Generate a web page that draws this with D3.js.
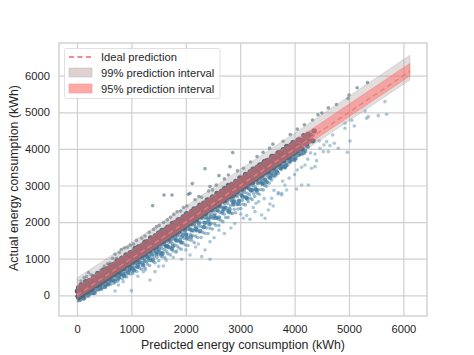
<!DOCTYPE html>
<html>
<head>
<meta charset="utf-8">
<script src="https://cdn.jsdelivr.net/npm/d3@7"></script>
<style>
  html, body { margin: 0; padding: 0; background: #fff; }
  text { font-family: "Liberation Sans", Arial, sans-serif; fill: #262626; }
</style>
</head>
<body>
<div id="chart"></div>
<script>
var xTicks = [0, 1000, 2000, 3000, 4000, 5000, 6000]
var yTicks = [0, 1000, 2000, 3000, 4000, 5000, 6000]
var legendLabels = ['Ideal prediction', '99% prediction interval', '95% prediction interval']

var bandX    = [0, 1000, 2000, 3000, 4000, 5000, 6120]
var upper99  = [470, 1440, 2430, 3440, 4430, 5440, 6557]
var lower99  = [-210, 780, 1770, 2770, 3770, 4770, 5880]
var upper95  = [235, 1225, 2225, 3225, 4225, 5225, 6339]
var lower95  = [-80, 880, 1875, 2875, 3875, 4875, 5990]
var idealX   = [0, 6120]

// dense cloud along the diagonal, estimated: [predicted, actual minus predicted]
var cloudPoints = [
[4,62],[9,-31],[15,148],[21,-92],[24,17],[31,201],[35,-140],[42,88],[47,-8],[53,173],[58,41],[64,-66],[70,119],[74,-115],[81,-22],[86,210],
[92,5],[99,-150],[103,77],[110,162],[114,-49],[121,29],[127,-170],[132,134],[138,-78],[143,56],[150,191],[155,-12],[161,-121],[166,98],[173,-38],[178,219],
[184,-160],[190,70],[195,-3],[202,-95],[207,142],[213,34],[218,-190],[224,112],[231,-58],[236,186],[242,8],[247,-130],[253,84],[260,-25],[264,155],[271,-205],
[276,48],[282,205],[288,-72],[293,-15],[299,125],[304,-176],[311,66],[316,-110],[322,178],[327,-40],[334,22],[339,-225],[345,96],[351,-84],[356,215],[362,-5],
[368,-150],[373,138],[380,38],[385,-250],[391,-62],[396,80],[403,169],[408,-120],[414,-18],[419,198],[426,52],[431,-190],[437,-95],[442,108],[449,-33],[454,222],
[460,-270],[465,12],[472,-140],[477,150],[483,-70],[488,74],[495,-215],[500,-10],[506,190],[511,-105],[518,44],[523,-300],[529,128],[534,-56],[541,-165],[546,210],
[552,25],[558,-240],[563,-88],[569,104],[575,-130],[580,170],[586,-28],[592,-285],[597,60],[603,-190],[608,142],[615,-74],[620,-320],[626,205],[631,-15],[638,-150],
[643,90],[649,-255],[654,-45],[661,180],[666,-110],[672,35],[677,-345],[684,-205],[689,122],[695,-60],[700,216],[707,-170],[712,10],[718,-290],[723,-125],[730,158],
[735,-35],[741,-230],[746,72],[753,-365],[758,-90],[764,195],[769,-145],[776,-20],[781,-310],[787,110],[793,-195],[798,50],[804,-65],[809,222],[816,-260],[821,-130],
[827,15],[832,-380],[838,165],[844,-80],[849,-215],[856,85],[861,-335],[867,-165],[872,-10],[879,200],[884,-290],[890,-105],[896,130],[901,-240],[907,-45],[912,-410],
[919,40],[924,175],[930,-185],[935,-130],[942,-320],[947,95],[953,-70],[958,215],[965,-265],[970,-25],[976,-395],[981,148],[988,-155],[993,-95],[999,60],[1004,-345],
[1010,190],[1016,-210],[1021,-50],[1027,-430],[1033,118],[1038,-125],[1044,-280],[1050,5],[1055,208],[1061,-370],[1067,-85],[1072,-175],[1078,75],[1084,-305],[1089,160],[1095,-30],
[1101,-450],[1106,-235],[1112,100],[1118,-115],[1123,220],[1129,-345],[1135,-60],[1140,-195],[1146,32],[1152,-405],[1157,180],[1163,-140],[1169,-270],[1174,-15],[1180,125],[1186,-475],
[1191,-90],[1197,212],[1203,-325],[1208,-165],[1214,55],[1220,-385],[1225,-40],[1231,145],[1237,-245],[1242,-110],[1248,-500],[1254,90],[1259,-210],[1265,200],[1271,-70],[1276,-360],
[1282,20],[1288,-150],[1293,-440],[1299,170],[1305,-285],[1310,-95],[1316,115],[1322,-225],[1327,-20],[1333,-520],[1339,218],[1344,-130],[1350,-335],[1356,62],[1361,-180],[1367,-415],
[1373,150],[1378,-55],[1384,-260],[1390,195],[1395,-110],[1401,-480],[1407,25],[1412,-205],[1418,-355],[1424,105],[1429,-75],[1435,-545],[1441,210],[1446,-160],[1452,-300],[1458,45],
[1463,-120],[1469,-430],[1475,175],[1480,-30],[1486,-240],[1492,-385],[1497,85],[1503,-560],[1509,-145],[1514,225],[1520,-85],[1526,-330],[1531,10],[1537,-195],[1543,-465],[1548,135],
[1554,-60],[1560,-275],[1565,-510],[1571,190],[1577,-125],[1582,-405],[1588,65],[1594,-220],[1599,-15],[1605,-350],[1611,155],[1616,-590],[1622,-100],[1628,-265],[1633,215],[1639,-40],
[1645,-445],[1650,95],[1656,-175],[1662,-310],[1667,-530],[1673,180],[1679,-70],[1684,-235],[1690,30],[1696,-395],[1701,-135],[1707,205],[1713,-610],[1718,-20],[1724,-285],[1730,120],
[1735,-480],[1741,-90],[1747,-190],[1752,170],[1758,-350],[1764,50],[1769,-560],[1775,-145],[1781,222],[1786,-255],[1792,-55],[1798,-425],[1803,105],[1809,-110],[1815,-320],[1820,-640],
[1826,195],[1832,0],[1837,-215],[1843,-500],[1849,140],[1854,-80],[1860,-375],[1866,75],[1871,-165],[1877,-585],[1883,210],[1888,-275],[1894,-35],[1900,-450],[1905,160],[1911,-125],
[1917,-660],[1922,40],[1928,-230],[1934,-340],[1939,185],[1945,-65],[1951,-520],[1956,90],[1962,-190],[1968,-410],[1973,225],[1979,-25],[1985,-295],[1990,-615],[1996,130],[2002,-105],
[2007,-470],[2013,60],[2019,-215],[2024,-355],[2030,200],[2036,-50],[2041,-680],[2047,-150],[2053,110],[2058,-540],[2064,-265],[2070,15],[2075,175],[2081,-95],[2087,-430],[2092,-325],
[2098,215],[2104,-600],[2109,-30],[2115,-180],[2121,85],[2126,-495],[2132,-120],[2138,145],[2143,-385],[2149,-240],[2155,-715],[2160,35],[2166,205],[2172,-70],[2177,-560],[2183,-305],
[2189,120],[2194,-160],[2200,-445],[2206,-10],[2211,190],[2217,-640],[2223,-210],[2228,70],[2234,-90],[2240,-360],[2245,222],[2251,-520],[2257,-135],[2262,-275],[2268,45],[2274,165],
[2279,-700],[2285,-55],[2291,-410],[2296,100],[2302,-190],[2308,-585],[2313,210],[2319,-20],[2325,-330],[2330,-115],[2336,135],[2342,-470],[2347,-245],[2353,-660],[2359,60],[2364,180],
[2370,-80],[2376,-385],[2381,-540],[2387,-150],[2393,215],[2398,25],[2404,-295],[2410,-720],[2415,-105],[2421,150],[2427,-435],[2432,-205],[2438,80],[2444,-615],[2449,-40],[2455,195],
[2461,-350],[2466,-500],[2472,-130],[2478,110],[2483,-260],[2489,-680],[2495,-15],[2500,222],[2506,-405],[2512,-170],[2517,55],[2523,-560],[2529,-90],[2534,170],[2540,-320],[2546,-225],
[2551,-640],[2557,30],[2563,205],[2568,-120],[2574,-455],[2580,-60],[2585,-280],[2591,125],[2597,-520],[2602,-185],[2608,-700],[2614,75],[2619,-35],[2625,190],[2631,-370],[2636,-140],
[2642,-590],[2648,215],[2653,-240],[2659,10],[2665,-425],[2670,-100],[2676,140],[2682,-670],[2687,-300],[2693,-70],[2699,180],[2704,-490],[2710,45],[2716,-210],[2721,-160],[2727,220],
[2733,-610],[2738,-25],[2744,-345],[2750,95],[2755,-120],[2761,-440],[2767,160],[2772,-265],[2778,-650],[2784,20],[2789,-85],[2795,200],[2801,-530],[2806,-190],[2812,115],[2818,-375],
[2823,-45],[2829,-585],[2835,225],[2840,-150],[2846,-290],[2852,65],[2857,-620],[2863,-110],[2869,170],[2874,-410],[2880,-230],[2886,5],[2891,-540],[2897,135],[2903,-75],[2908,-330],
[2914,-660],[2920,210],[2925,-170],[2931,40],[2937,-465],[2942,-20],[2948,-255],[2954,155],[2959,-600],[2965,-95],[2971,100],[2976,-380],[2982,-205],[2988,218],[2993,-510],[2999,-55],
[3005,70],[3010,-640],[3016,-140],[3022,185],[3027,-310],[3033,-35],[3039,-445],[3044,125],[3050,-220],[3056,-570],[3061,15],[3067,200],[3073,-105],[3078,-395],[3084,-270],[3090,90],
[3095,-625],[3101,-165],[3107,222],[3112,-60],[3118,-480],[3124,145],[3129,-340],[3135,-15],[3141,-200],[3146,-590],[3152,55],[3158,175],[3163,-120],[3169,-420],[3175,-280],[3180,205],
[3186,-80],[3192,-540],[3197,30],[3203,-185],[3209,130],[3214,-360],[3220,-610],[3226,-45],[3231,215],[3237,-245],[3243,-130],[3248,-470],[3254,80],[3260,-20],[3265,-565],[3271,160],
[3277,-310],[3282,-95],[3288,195],[3294,-400],[3299,-175],[3305,50],[3311,-520],[3316,222],[3322,-65],[3328,-235],[3333,-450],[3339,110],[3345,-10],[3350,-590],[3356,-140],[3362,180],
[3367,-295],[3373,-85],[3379,70],[3384,-495],[3390,210],[3396,-205],[3401,-30],[3407,-380],[3413,140],[3418,-115],[3424,-545],[3430,-260],[3435,20],[3441,190],[3447,-440],[3452,-70],
[3458,-165],[3464,225],[3469,-330],[3475,60],[3481,-505],[3486,-25],[3492,-215],[3498,150],[3503,-400],[3509,-100],[3515,95],[3520,-300],[3526,205],[3532,-470],[3537,-55],[3543,-150],
[3549,30],[3554,-360],[3560,175],[3566,-250],[3571,-85],[3577,-430],[3583,120],[3588,-10],[3594,-190],[3600,-330],[3605,215],[3611,-130],[3617,65],[3622,-390],[3628,-45],[3634,-260],
[3639,160],[3645,-110],[3651,-340],[3656,10],[3662,200],[3668,-205],[3673,-75],[3679,-300],[3685,105],[3690,-150],[3696,-30],[3702,-370],[3707,222],[3713,55],[3719,-225],[3724,-95],
[3730,140],[3736,-280],[3741,-15],[3747,-170],[3753,190],[3758,-320],[3764,40],[3770,-115],[3775,-240],[3781,85],[3787,210],[3792,-60],[3798,-290],[3804,-135],[3809,125],[3815,-20],
[3821,-345],[3826,170],[3832,-90],[3838,-200],[3843,30],[3849,-265],[3855,220],[3860,-40],[3866,-150],[3872,100],[3877,-310],[3883,-75],[3889,180],[3894,-225],[3900,5],[3906,-120],
[3911,140],[3917,-280],[3923,-50],[3928,205],[3934,-175],[3940,60],[3945,-250],[3951,-95],[3957,160],[3962,-20],[3968,-205],[3974,115],[3979,-135],[3985,222],[3991,-60],[3996,-300],
[4006,80],[4015,-160],[4023,190],[4034,-40],[4042,-230],[4053,130],[4061,-100],[4070,20],[4081,-260],[4089,210],[4100,-70],[4108,-180],[4119,150],[4127,-20],[4138,-290],[4146,90],
[4157,-130],[4166,200],[4176,-210],[4187,40],[4195,-80],[4206,175],[4216,-150],[4227,-30],[4240,110],[4252,-200],[4268,60],[4283,-100],[4300,165],[4322,-60],[4345,20],[4370,-140]
]

// second pass over the darkest part of the band: [predicted, actual minus predicted]
var corePoints = [
[7,110],[18,-45],[27,175],[38,-100],[45,30],[56,135],[67,-20],[77,205],[89,-75],[96,60],[108,-125],[118,160],[128,10],[137,-60],[147,95],[158,215],
[169,-30],[181,130],[192,-105],[200,45],[212,-10],[222,180],[233,75],[244,-85],[255,140],[266,20],[275,-120],[286,100],[297,-40],[306,195],[318,55],[329,-70],
[340,150],[349,-15],[360,85],[371,-100],[381,215],[392,5],[402,-55],[413,125],[423,-130],[433,70],[444,-25],[456,165],[467,-90],[476,35],[487,205],[498,-45],
[509,110],[519,-115],[530,15],[540,175],[551,-70],[561,80],[572,-10],[583,145],[593,-135],[604,50],[614,200],[625,-30],[635,-95],[647,120],[656,25],[668,-60],
[678,170],[688,-120],[698,65],[709,-20],[720,135],[731,-85],[740,210],[752,0],[762,-140],[772,90],[783,-45],[794,155],[805,30],[815,-105],[825,190],[836,-15],
[847,70],[857,-125],[868,125],[878,5],[889,-70],[899,205],[910,45],[921,-100],[932,160],[941,-35],[952,95],[963,-140],[973,15],[984,180],[994,-60],[1005,110],
[1015,-20],[1026,-120],[1037,150],[1047,40],[1058,-85],[1068,215],[1079,-5],[1090,75],[1100,-130],[1110,130],[1120,-45],[1131,190],[1142,20],[1152,-95],[1163,100],[1173,-25],
[1184,165],[1195,-115],[1205,55],[1216,-60],[1226,140],[1236,-10],[1247,205],[1258,-135],[1268,85],[1279,-40],[1289,175],[1300,10],[1311,-90],[1321,120],[1331,-125],[1342,60],
[1353,215],[1363,-20],[1374,-75],[1384,150],[1395,35],[1405,-110],[1416,95],[1426,-45],[1437,185],[1448,0],[1458,-130],[1468,125],[1479,65],[1489,-65],[1500,200],[1511,-15],
[1521,-105],[1532,145],[1542,30],[1552,-80],[1563,210],[1574,75],[1584,-35],[1595,-125],[1605,110],[1615,-5],[1626,170],[1637,-95],[1647,50],[1658,-50],[1668,195],[1678,-140],
[1689,90],[1700,15],[1710,-70],[1721,155],[1732,-25],[1742,-115],[1753,215],[1763,40],[1773,-60],[1784,130],[1795,-10],[1805,-130],[1816,180],[1826,70],[1836,-85],[1847,25],
[1858,205],[1868,-40],[1879,-120],[1889,115],[1899,-15],[1910,165],[1921,55],[1931,-95],[1942,-30],[1952,190],[1962,85],[1973,-135],[1984,5],[1994,140],[2005,-65],[2015,215],
[2026,-110],[2036,35],[2047,-20],[2057,160],[2068,-80],[2079,100],[2089,-125],[2100,20],[2110,180],[2120,-45],[2131,65],[2142,-100],[2152,210],[2163,-10],[2173,125],[2183,-70],
[2194,-135],[2205,50],[2215,170],[2226,-30],[2236,-90],[2246,95],[2257,205],[2268,10],[2278,-55],[2289,-120],[2299,145],[2309,30],[2320,-15],[2331,190],[2341,-75],[2352,80],
[2362,-130],[2372,120],[2383,-35],[2394,215],[2404,55],[2415,-95],[2425,0],[2435,165],[2446,-60],[2457,105],[2467,-125],[2478,40],[2488,195],[2498,-20],[2509,-85],[2520,135],
[2530,15],[2541,-115],[2551,75],[2561,-45],[2572,210],[2583,-5],[2593,150],[2604,-135],[2614,60],[2624,-70],[2635,115],[2646,-25],[2656,185],[2667,25],[2677,-100],[2687,90],
[2698,-55],[2709,205],[2719,-130],[2730,45],[2740,-15],[2750,160],[2761,70],[2772,-90],[2782,220],[2793,-35],[2803,5],[2813,130],[2824,-120],[2835,85],[2845,-60],[2856,175],
[2866,-10],[2876,-140],[2887,110],[2898,35],[2908,-80],[2919,195],[2929,-40],[2939,60],[2950,-110],[2961,145],[2971,-25],[2982,15],[2992,215],[3002,-65],[3013,95],[3024,-125],
[3034,170],[3045,-5],[3055,-90],[3065,50],[3076,125],[3087,-45],[3097,205],[3108,-130],[3118,25],[3128,-70],[3139,155],[3150,80],[3160,-15],[3171,-105],[3181,190],[3191,40],
[3202,-55],[3213,115],[3223,-135],[3234,215],[3244,-30],[3254,65],[3265,-85],[3276,140],[3286,0],[3297,-120],[3307,180],[3317,-40],[3328,90],[3339,-95],[3349,20],[3360,205],
[3370,-65],[3380,130],[3391,-10],[3402,-125],[3412,165],[3423,55],[3433,-75],[3443,210],[3454,-25],[3465,100],[3475,-105],[3486,30],[3496,185],[3506,-50],[3517,-135],[3528,70],
[3538,150],[3549,-15],[3559,-90],[3569,115],[3580,215],[3591,-60],[3601,10],[3612,-125],[3622,175],[3632,45],[3643,-35],[3654,-100],[3664,135],[3675,85],[3685,-70],[3695,200],
[3706,-20],[3717,-130],[3727,60],[3738,160],[3748,-45],[3758,110],[3769,5],[3780,-85],[3790,190],[3801,-120],[3811,35],[3821,-15],[3832,145],[3843,-65],[3853,215],[3864,-100],
[3874,75],[3884,-30],[3895,125],[3906,-130],[3916,20],[3927,170],[3937,-55],[3947,95],[3958,-90],[3969,205],[3979,-10],[3990,50],[4000,-115],[4011,150],[4021,-40],[4032,85],
[4048,-95],[4066,180],[4083,10],[4098,-60],[4115,120],[4133,-125],[4150,45],[4168,195],[4184,-30],[4203,90],[4225,-85],[4246,160],[4270,-20],[4296,70],[4330,-110],[4361,130]
]

// dense rim just under the band: [predicted, actual minus predicted]
var rimPoints = [
[60,-175],[110,-195],[155,-165],[205,-220],[250,-190],[300,-240],[340,-160],[395,-215],[440,-265],[480,-180],[530,-235],[570,-275],[625,-195],[665,-250],[715,-170],[760,-300],
[800,-215],[845,-265],[890,-170],[935,-320],[980,-225],[1020,-285],[1065,-190],[1110,-340],[1150,-240],[1195,-175],[1240,-305],[1285,-215],[1330,-370],[1370,-260],[1415,-190],[1460,-325],
[1505,-235],[1545,-395],[1590,-180],[1635,-290],[1680,-355],[1720,-215],[1765,-425],[1810,-260],[1850,-170],[1895,-385],[1940,-305],[1985,-210],[2025,-445],[2070,-245],[2115,-340],[2155,-190],
[2200,-410],[2240,-280],[2285,-165],[2330,-470],[2370,-225],[2415,-350],[2455,-305],[2500,-175],[2545,-430],[2585,-260],[2630,-205],[2675,-385],[2720,-320],[2760,-160],[2805,-455],[2850,-245],
[2890,-340],[2935,-190],[2980,-405],[3025,-280],[3065,-165],[3110,-435],[3155,-225],[3195,-330],[3240,-175],[3285,-395],[3325,-260],[3370,-200],[3415,-360],[3455,-290],[3500,-170],[3545,-330],
[3585,-230],[3630,-185],[3675,-295],[3715,-160],[3760,-255],[3800,-190],[3845,-300],[3890,-160],[3930,-230],[3975,-185],[4020,-270],[4060,-170],[4105,-225],[4150,-185],[4195,-250],[4235,-170],
[35,-165],[130,-215],[230,-180],[325,-260],[420,-195],[510,-285],[605,-225],[695,-310],[780,-245],[870,-345],[960,-265],[1045,-370],[1130,-290],[1215,-395],[1305,-265],[1395,-420],
[1480,-290],[1570,-440],[1655,-320],[1745,-465],[1830,-335],[1920,-480],[2005,-350],[2095,-500],[2180,-360],[2265,-510],[2350,-375],[2435,-495],[2525,-360],[2610,-480],[2700,-345],[2785,-500],
[2870,-375],[2960,-460],[3045,-350],[3130,-485],[3220,-335],[3305,-440],[3395,-315],[3480,-395],[3565,-290],[3650,-355],[3740,-265],[3825,-320],[3910,-250],[4000,-295],[4085,-235],[4170,-280]
]

// sparse points above the band and down to the lower right
var upperStray = [
[2862,3898],[2353,3460],[2813,3515],[2610,3269],[2782,3287],[2120,3051],[2445,2969],[2077,2787],[2047,2759],[1600,2741],[1746,2741],[1391,2449],
[130,480],[175,510],[260,560],[360,590],[560,860],[610,880],[700,1120],[730,1010],[870,1290],[980,1370],[1040,1400],[1190,1560],[1330,1720],[1510,1910],[1660,2060],[1840,2280],[1960,2400],[2170,2610],
[2240,2700],[2420,2850],[2560,3010],[2710,3180],[2950,3400],[3060,3470],[3190,3640],[3310,3790],[3420,3910],[3540,4020],[3600,4130],[3790,4210],[3920,4390],[4050,4540],[4180,4660],[4330,4790],[4430,4930],[4500,4980],[4620,5120],[4770,5210],[4980,5380],[5000,5470],[5150,5670],[5340,5810],
[72,390],[210,620],[305,490],[440,690],[500,800],[655,1010],[780,1170],[815,1250],[925,1310],[1095,1500],[1250,1620],[1410,1800],[1460,1870],[1590,1990],[1720,2130],[1780,2210],[1905,2300],[2020,2440],[2290,2680],[2490,2880]
]
var lowerStray = [
[999,127],[1342,418],[1587,801],[1924,983],[2445,983],[2292,1056],[2353,1238],[2077,1101],[2445,1465],[1434,646],[699,118],[1220,646],[760,281],
[3180,2076],[3456,2103],[3272,2285],[3394,2194],[3517,2331],[3609,2440],[3547,2494],[3762,2740],[3057,2103],[3700,2804],[3290,2513],[3578,2649],
[5661,5291],[5324,4836],[5355,4881],[5539,4908],[5692,4945],[5098,4626],[5018,4216],[4969,3907],[4803,4016],[4730,4153],[4650,4089],[4589,4198],
[4540,4107],[4620,3925],[4528,3925],[4466,4016],[4375,3861],[4405,3679],[4313,3470],[4375,3515],[4252,3014],[4130,3014],[4037,2905],[4130,3497],
[4050,3424],[3823,3014],[3854,2878],[3762,2787],[3700,2768],[4926,4699],[4926,4562],[5294,5036],
[2180,1320],[2520,1570],[2610,1780],[2710,1690],[2830,1840],[2900,1960],[3010,2220],[3120,2180],[3240,2400],[3340,2560],[3440,2640],[3620,2870],[3780,3120],[3900,3200],[4000,3300],[4190,3560],
[1500,790],[1640,960],[1770,1040],[1830,1210],[2000,1240],[2230,1400],[850,370],[1120,520],[1260,700],[4240,3720],[4290,3890],[4450,4220],[4700,4380],[5050,4780]
]

var width = 474
var height = 355
var margin = {top: 43, right: 47, bottom: 39, left: 59}

var svg = d3.select('#chart').append('svg')
  .attr('width', width)
  .attr('height', height)

// the reference is a soft, slightly blurred image
svg.append('defs').append('filter')
  .attr('id', 'soft')
  .append('feGaussianBlur')
  .attr('stdDeviation', 0.6)

var x = d3.scaleLinear().domain([-331, 6434]).range([margin.left, width - margin.right])
var y = d3.scaleLinear().domain([-566, 6893]).range([height - margin.bottom, margin.top])

var gridColor = '#cfcfcf'

// x axis with full height ticks as grid
var xAxis = svg.append('g')
  .attr('transform', 'translate(0,' + (height - margin.bottom) + ')')
  .call(d3.axisBottom(x).tickValues(xTicks).tickFormat(d3.format('d')).tickSize(-(height - margin.top - margin.bottom)).tickPadding(9))
xAxis.selectAll('line').attr('stroke', gridColor).attr('stroke-width', 1.2)
xAxis.selectAll('text').attr('font-size', 11.2)
xAxis.select('.domain').remove()

var yAxis = svg.append('g')
  .attr('transform', 'translate(' + margin.left + ',0)')
  .call(d3.axisLeft(y).tickValues(yTicks).tickFormat(d3.format('d')).tickSize(-(width - margin.left - margin.right)).tickPadding(9))
yAxis.selectAll('line').attr('stroke', gridColor).attr('stroke-width', 1.2)
yAxis.selectAll('text').attr('font-size', 11.2)
yAxis.select('.domain').remove()

svg.append('rect')
  .attr('x', margin.left)
  .attr('y', margin.top)
  .attr('width', width - margin.left - margin.right)
  .attr('height', height - margin.top - margin.bottom)
  .attr('fill', 'none')
  .attr('stroke', gridColor)
  .attr('stroke-width', 1.4)

// scatter
var pointsGroup = svg.append('g').attr('filter', 'url(#soft)')
function drawPoints(data, color, alpha, r) {
  pointsGroup.append('g').selectAll('circle').data(data).join('circle')
    .attr('cx', function(d) { return x(d[0]) })
    .attr('cy', function(d) { return y(d[1]) })
    .attr('r', r)
    .attr('fill', color)
    .attr('fill-opacity', alpha)
}
function fromError(d) { return [d[0], d[0] + d[1]] }
drawPoints(cloudPoints.map(fromError), '#4a83a6', 0.55, 1.8)
drawPoints(rimPoints.map(fromError), '#3a779e', 0.7, 2.2)
drawPoints(corePoints.map(fromError), '#1f4f70', 0.9, 2.6)
drawPoints(lowerStray, '#5c92b3', 0.5, 1.8)
drawPoints(upperStray, '#4d6a7a', 0.6, 1.8)

// interval bands
function band(upper, lower) {
  return d3.area()
    .x(function(d, i) { return x(bandX[i]) })
    .y0(function(d, i) { return y(lower[i]) })
    .y1(function(d, i) { return y(upper[i]) })(bandX)
}
svg.append('path').attr('d', band(upper99, lower99)).attr('fill', '#a89a9a').attr('fill-opacity', 0.33).attr('stroke', '#a89a9a').attr('stroke-opacity', 0.4).attr('stroke-width', 0.8)
svg.append('path').attr('d', band(upper95, lower95)).attr('fill', '#ff6a66').attr('fill-opacity', 0.5).attr('stroke', '#ff6a66').attr('stroke-opacity', 0.4).attr('stroke-width', 0.8)

var idealLine = d3.line().x(function(d) { return x(d) }).y(function(d) { return y(d) })
svg.append('path')
  .attr('d', idealLine(idealX))
  .attr('fill', 'none')
  .attr('stroke', '#ef7a78')
  .attr('stroke-width', 1.3)
  .attr('stroke-dasharray', '5,3.5')

// legend
var legend = svg.append('g')
legend.append('rect')
  .attr('x', 64.5).attr('y', 48.5).attr('width', 155.5).attr('height', 50).attr('rx', 2)
  .attr('fill', '#fff').attr('fill-opacity', 0.85).attr('stroke', '#d8d8d8').attr('stroke-width', 0.8)
legend.append('line')
  .attr('x1', 69).attr('x2', 92).attr('y1', 57).attr('y2', 57)
  .attr('stroke', '#e8686a').attr('stroke-width', 1.3).attr('stroke-dasharray', '5,3.5')
legend.append('rect').attr('x', 69).attr('y', 68).attr('width', 23).attr('height', 9)
  .attr('fill', '#dcd2d2').attr('stroke', '#cbbfbf').attr('stroke-width', 0.6)
legend.append('rect').attr('x', 69).attr('y', 84).attr('width', 23).attr('height', 9)
  .attr('fill', '#ffa9a6').attr('stroke', '#f59a98').attr('stroke-width', 0.6)
legend.selectAll('.label').data(legendLabels).join('text')
  .attr('class', 'label')
  .attr('x', 101)
  .attr('y', function(d, i) { return 61 + i * 16 })
  .attr('font-size', 11.2)
  .text(function(d) { return d })

// axis titles
svg.append('text')
  .attr('x', 243).attr('y', 349)
  .attr('text-anchor', 'middle').attr('font-size', 12.4)
  .text('Predicted energy consumption (kWh)')
svg.append('text')
  .attr('transform', 'translate(18,178) rotate(-90)')
  .attr('text-anchor', 'middle').attr('font-size', 12.4)
  .text('Actual energy consumption (kWh)')
</script>
</body>
</html>
